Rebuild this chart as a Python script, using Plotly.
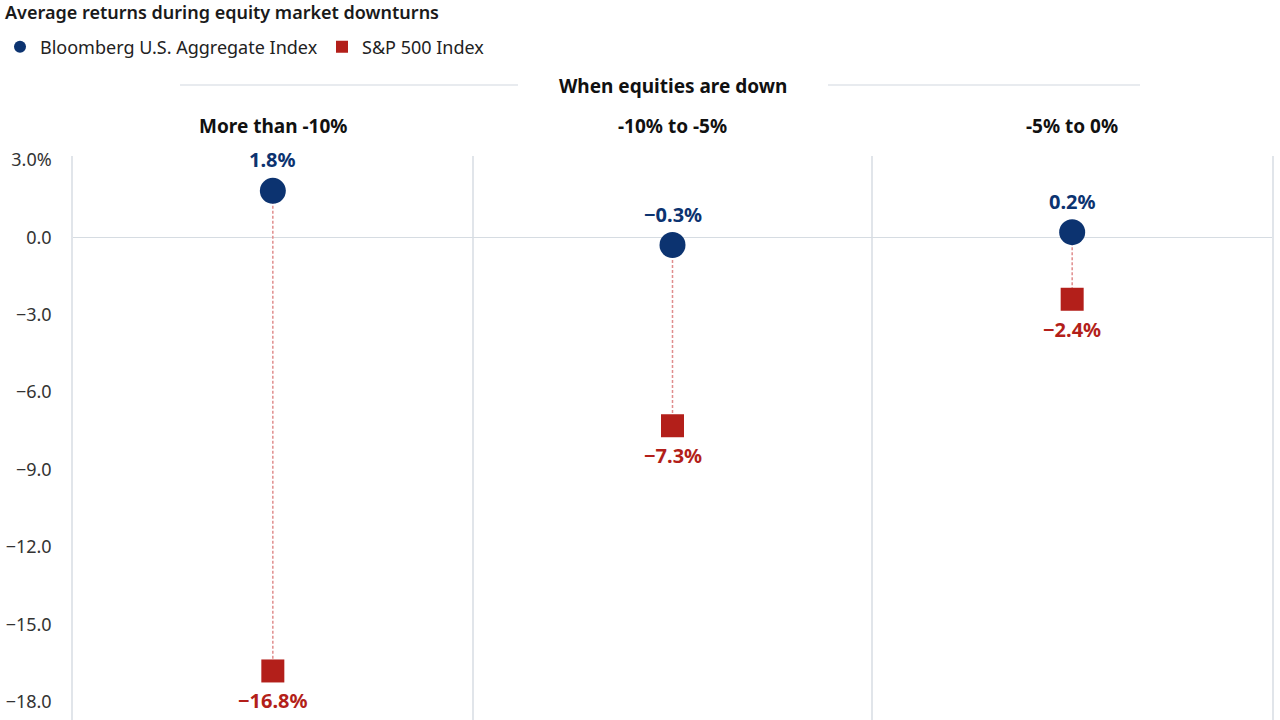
import plotly.graph_objects as go

categories = ["More than -10%", "-10% to -5%", "-5% to 0%"]
bond_returns = [1.8, -0.3, 0.2]
stock_returns = [-16.8, -7.3, -2.4]
tick_vals = [3, 0, -3, -6, -9, -12, -15, -18]
tick_text = ["3.0%", "0.0", "\u22123.0", "\u22126.0", "\u22129.0", "\u221212.0", "\u221215.0", "\u221218.0"]

NAVY = "#0c3370"
RED = "#b31f1a"
DASH = "#e08d8d"
GRID = "#e1e5ea"
FONT = "Noto Sans"

W, H = 1280, 720
L, R, T, B = 73, 8, 156, 0


def px_x(x):
    return (x - L) / (W - L - R)


def px_y(y):
    return (H - B - y) / (H - T - B)


def fmt(v):
    s = f"{abs(v):.1f}%"
    return ("\u2212" + s) if v < 0 else s


xs = list(range(len(categories)))
fig = go.Figure()

# dashed connectors
for i in xs:
    fig.add_trace(go.Scatter(
        x=[i, i], y=[bond_returns[i], stock_returns[i]], mode="lines",
        line=dict(color=DASH, width=1.5, dash="3px,2px"),
        showlegend=False, hoverinfo="skip"))

fig.add_trace(go.Scatter(
    x=xs, y=bond_returns, mode="markers", name="Bloomberg U.S. Aggregate Index",
    marker=dict(symbol="circle", size=26, color=NAVY, line=dict(width=0))))
fig.add_trace(go.Scatter(
    x=xs, y=stock_returns, mode="markers", name="S&P 500 Index",
    marker=dict(symbol="square", size=23, color=RED, line=dict(width=0))))

annotations = []
for i in xs:
    annotations.append(dict(x=i, y=bond_returns[i], text=f"<b>{fmt(bond_returns[i])}</b>",
                            showarrow=False, yshift=31, font=dict(size=20, color=NAVY, family=FONT)))
    annotations.append(dict(x=i, y=stock_returns[i], text=f"<b>{fmt(stock_returns[i])}</b>",
                            showarrow=False, yshift=-30, font=dict(size=20, color=RED, family=FONT)))
    annotations.append(dict(x=i, y=px_y(126), yref="paper", yanchor="middle",
                            text=f"<b>{categories[i]}</b>",
                            showarrow=False, font=dict(size=19, color="#111", family=FONT)))

annotations.append(dict(x=px_x(673), xref="paper", xanchor="center",
                        y=px_y(86), yref="paper", yanchor="middle",
                        text="<b>When equities are down</b>", showarrow=False,
                        font=dict(size=19, color="#111", family=FONT)))

shapes = [
    dict(type="line", xref="paper", yref="paper", x0=px_x(180), x1=px_x(518),
         y0=px_y(85), y1=px_y(85), line=dict(color=GRID, width=1.5)),
    dict(type="line", xref="paper", yref="paper", x0=px_x(828), x1=px_x(1140),
         y0=px_y(85), y1=px_y(85), line=dict(color=GRID, width=1.5)),
]

fig.update_layout(
    width=W, height=H,
    margin=dict(l=L, r=R, t=T, b=B),
    plot_bgcolor="white", paper_bgcolor="white",
    font=dict(family=FONT, size=18, color="#333"),
    title=dict(text="Average returns during equity market downturns",
               x=5 / W, xanchor="left", xref="container",
               y=1 - 13 / H, yanchor="middle", yref="container",
               font=dict(size=18, color="#1a1a1a", family=FONT, weight=600)),
    legend=dict(orientation="h", xref="container", yref="container",
                x=0.0, y=1 - 47 / H, yanchor="middle", xanchor="left",
                itemsizing="constant", font=dict(size=18, color="#222"),
                entrywidth=277, itemwidth=30, tracegroupgap=0),
    xaxis=dict(range=[-0.5, 2.5], tickvals=[0.5, 1.5], showticklabels=False,
               showgrid=True, gridcolor=GRID, gridwidth=1.5, zeroline=False, showline=False),
    yaxis=dict(range=[-18.7, 3.15], tickvals=tick_vals, ticktext=tick_text,
               showgrid=False, zeroline=True, zerolinecolor="#d6dce2", zerolinewidth=1,
               showline=True, mirror=True, linecolor=GRID, linewidth=1.5,
               ticklabelstandoff=16, tickfont=dict(size=18, color="#333")),
    annotations=annotations,
    shapes=shapes,
    showlegend=True,
)

fig.write_html("out.html", config={"displayModeBar": False},
               post_script="document.body.style.margin='0';")
